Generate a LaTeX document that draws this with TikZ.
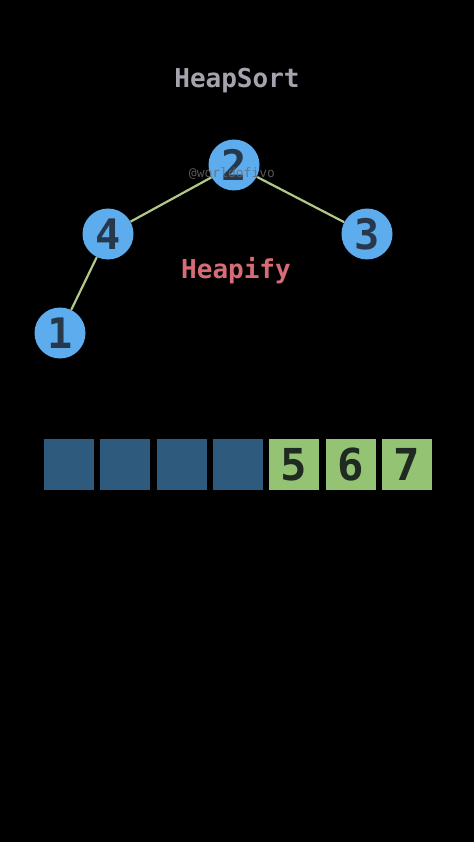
\documentclass[tikz,border=0pt]{standalone}
\usepackage{fontspec}
\setmonofont{DejaVu Sans Mono}
\definecolor{bg}{HTML}{000000}
\definecolor{circ}{HTML}{5CACEE}
\definecolor{digit}{HTML}{26384A}
\definecolor{edge}{HTML}{B2C888}
\definecolor{titlec}{HTML}{A4A4AE}
\definecolor{heapc}{HTML}{D86C76}
\definecolor{boxblue}{HTML}{2E5A7E}
\definecolor{boxgreen}{HTML}{94C473}
\definecolor{boxdigit}{HTML}{1F2A22}
\definecolor{wm}{HTML}{6A6A6A}
\begin{document}
\begin{tikzpicture}[x=1pt,y=-1pt,
  heapnode/.style={circle,fill=circ,minimum size=51pt,inner sep=0pt,text=digit,font=\ttfamily\bfseries\fontsize{42}{42}\selectfont},
  heapedge/.style={draw=edge,line width=2.2pt},
  cell/.style={minimum width=50pt,minimum height=51pt,inner sep=0pt,text=boxdigit,font=\ttfamily\bfseries\fontsize{44}{44}\selectfont},
  sorted/.style={cell,fill=boxgreen},
  unsorted/.style={cell,fill=boxblue}]
\fill[bg] (0,0) rectangle (474,842);
\useasboundingbox (0,0) rectangle (474,842);
\node[text=titlec,font=\ttfamily\bfseries\fontsize{26}{26}\selectfont] (title) at (237,81) {HeapSort};
\node[heapnode] (n2) at (234,165) {2};
\node[heapnode] (n4) at (108,234) {4};
\node[heapnode] (n3) at (367,234) {3};
\node[heapnode] (n1) at (60,333) {1};
\draw[heapedge] (n2) -- (n4);
\draw[heapedge] (n2) -- (n3);
\draw[heapedge] (n4) -- (n1);
\node[text=wm,opacity=0.8,font=\ttfamily\fontsize{13}{13}\selectfont] (wmark) at (232,174) {@worldofivo};
\node[text=heapc,font=\ttfamily\bfseries\fontsize{26}{26}\selectfont] (heapify) at (236,271) {Heapify};
\node[unsorted] (c1) at (69,464.5) {};
\node[unsorted] (c2) at (125.3,464.5) {};
\node[unsorted] (c3) at (181.6,464.5) {};
\node[unsorted] (c4) at (237.9,464.5) {};
\node[sorted] (c5) at (294.2,464.5) {5};
\node[sorted] (c6) at (350.5,464.5) {6};
\node[sorted] (c7) at (406.8,464.5) {7};
\end{tikzpicture}
\end{document}
